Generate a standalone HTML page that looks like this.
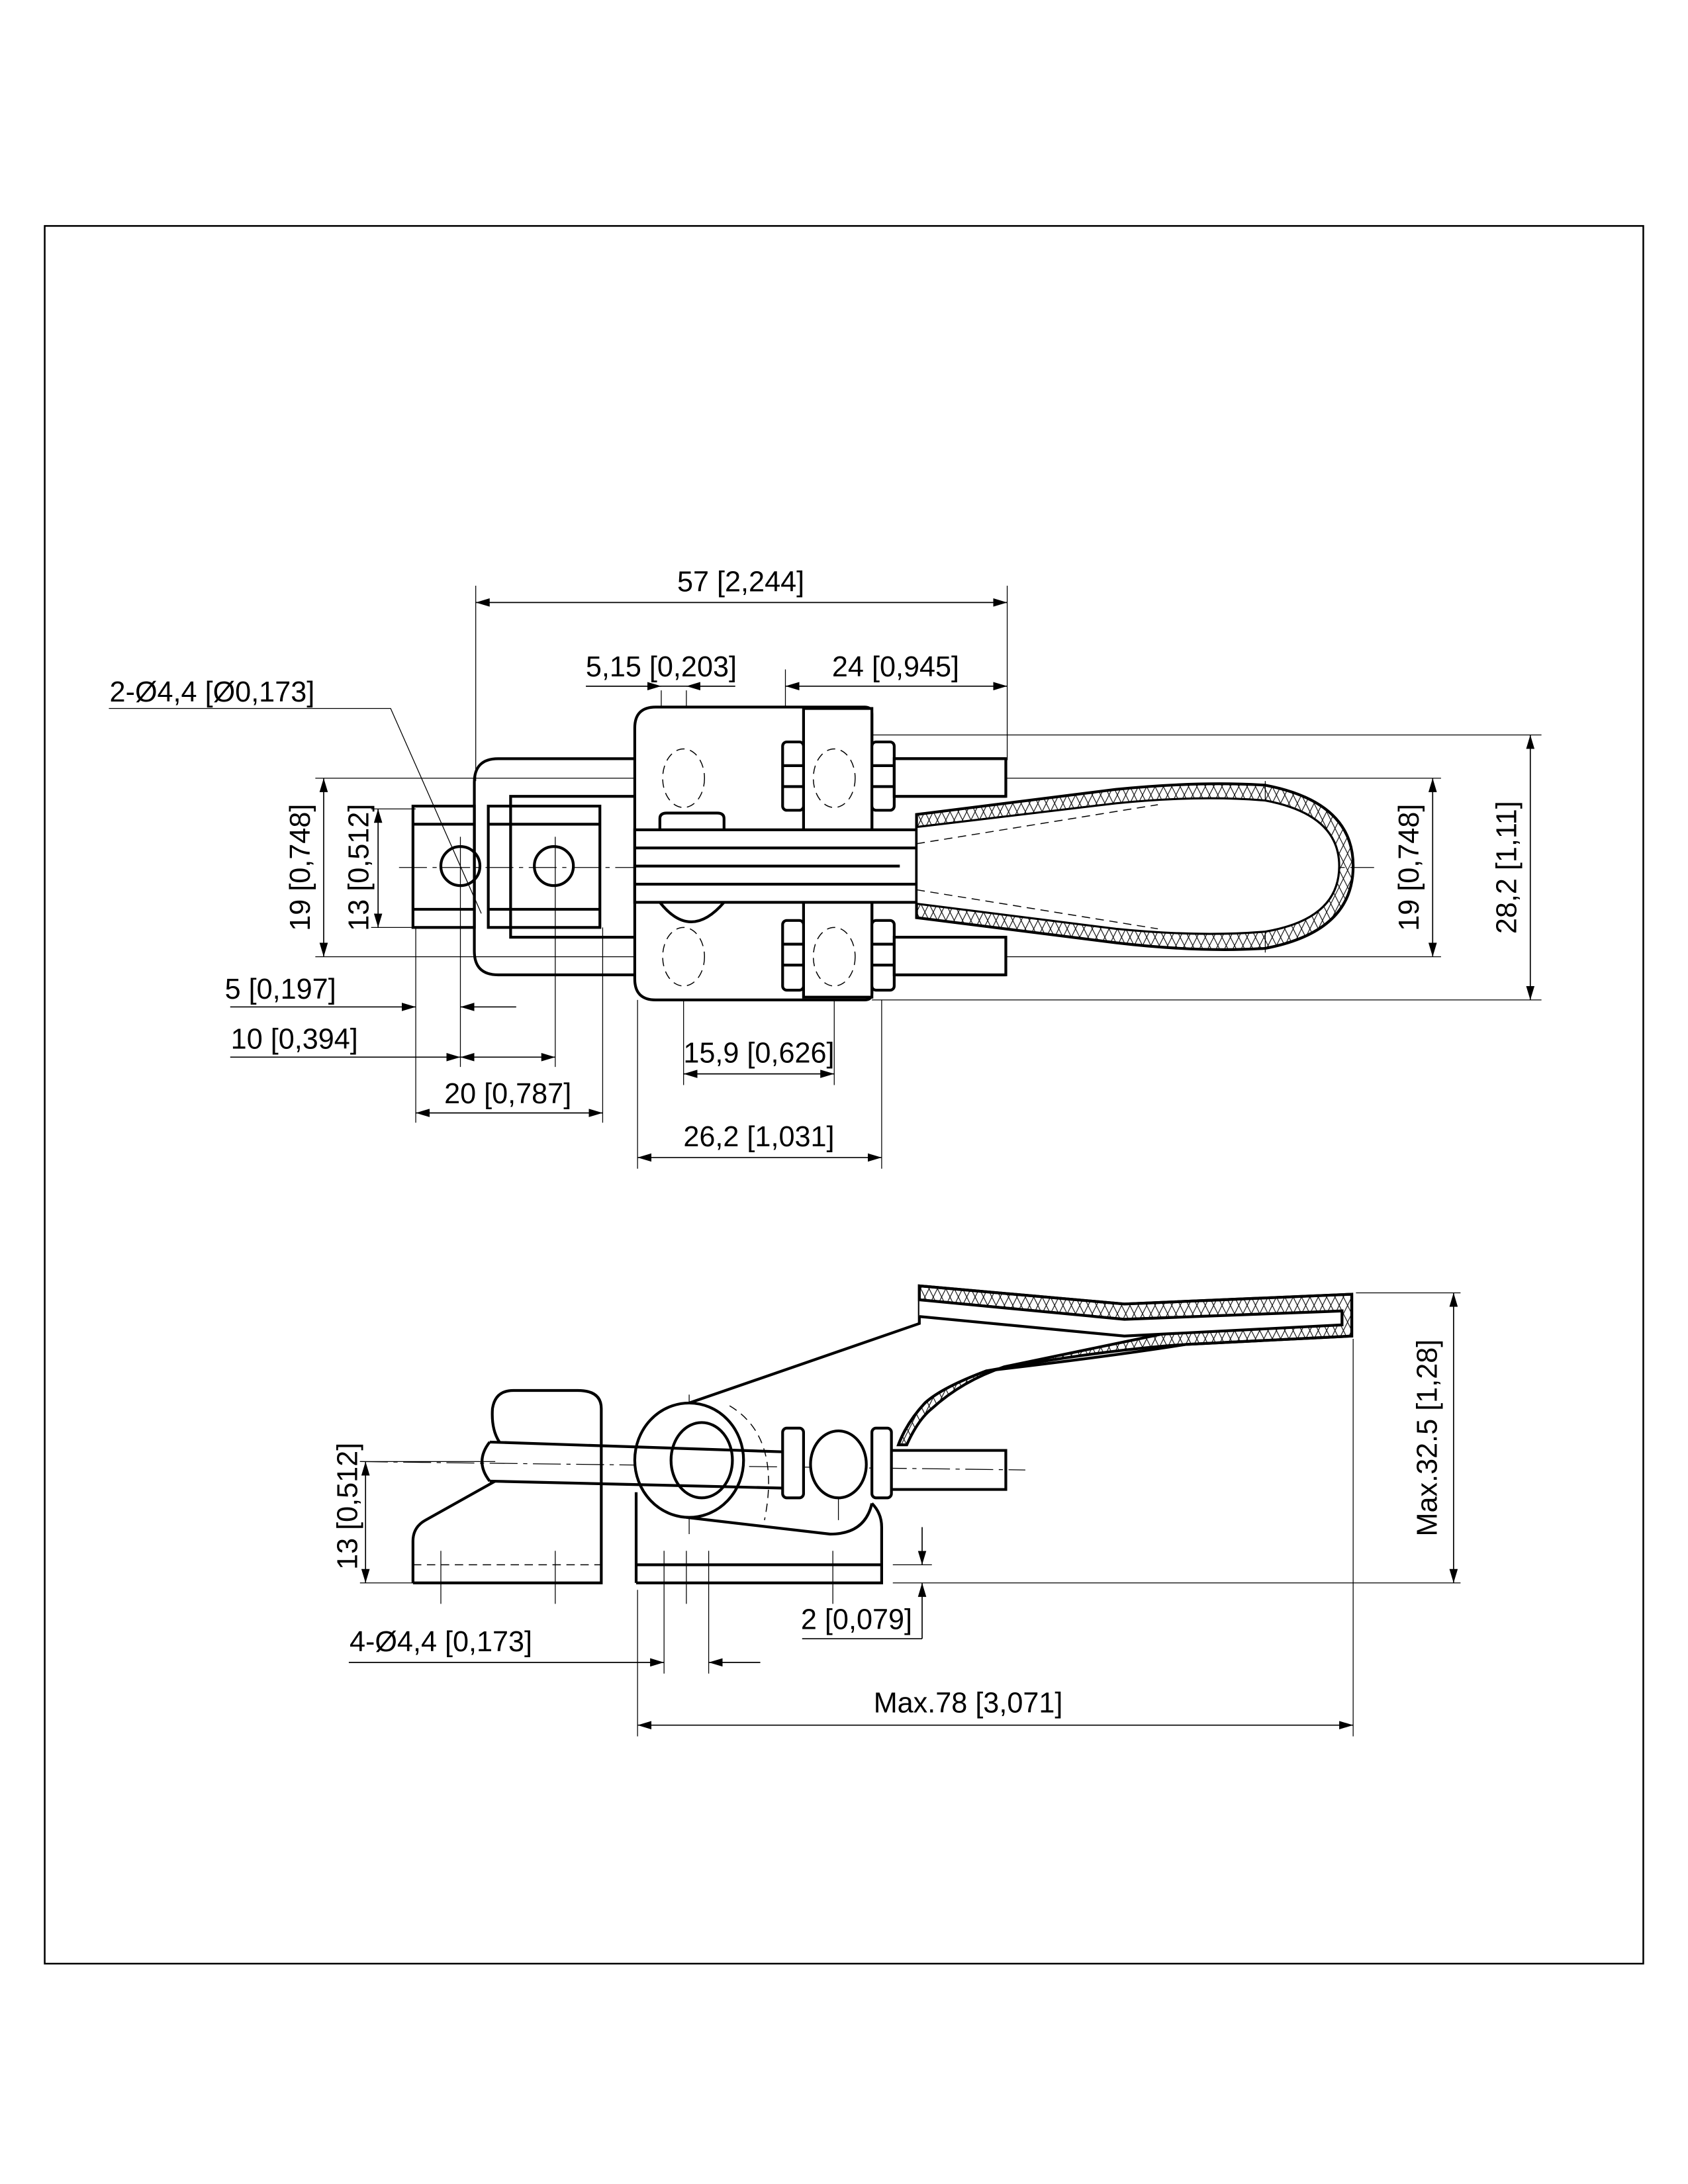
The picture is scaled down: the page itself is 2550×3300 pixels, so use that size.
<!DOCTYPE html>
<html><head><meta charset="utf-8"><style>html,body{margin:0;padding:0;background:#fff}svg{display:block}</style></head>
<body>
<svg width="2550" height="3300" viewBox="0 0 1210 1566" xmlns="http://www.w3.org/2000/svg" font-family="Liberation Sans, sans-serif" font-size="20.5">
<defs>
<pattern id="h" width="6" height="12" patternUnits="userSpaceOnUse"><path d="M0 0L6 12M6 0L0 12" stroke="#000" stroke-width="0.5"/></pattern>
<marker id="a" viewBox="0 0 10 6" refX="10" refY="3" markerWidth="10" markerHeight="6" orient="auto-start-reverse" markerUnits="userSpaceOnUse"><path d="M0 0L10 3L0 6z"/></marker>
</defs>
<rect x="32" y="162" width="1146" height="1246" fill="none" stroke="#000" stroke-width="1.2"/>
<g fill="none" stroke="#000">
<g stroke-width="0.6">
<line x1="286" y1="622" x2="985" y2="622" stroke-dasharray="20 4 3 4"/>
<line x1="341" y1="420" x2="341" y2="560"/><line x1="722" y1="420" x2="722" y2="545"/>
<line x1="563" y1="480" x2="563" y2="530"/>
<line x1="226" y1="558" x2="1033" y2="558"/><line x1="226" y1="686" x2="1033" y2="686"/>
<line x1="266" y1="580" x2="298" y2="580"/><line x1="266" y1="665" x2="298" y2="665"/>
<line x1="625" y1="527" x2="1105" y2="527"/><line x1="625" y1="717" x2="1105" y2="717"/>
<line x1="298" y1="665" x2="298" y2="805"/><line x1="330" y1="600" x2="330" y2="765"/>
<line x1="398" y1="600" x2="398" y2="765"/><line x1="432" y1="665" x2="432" y2="805"/>
<line x1="457" y1="717" x2="457" y2="838"/><line x1="632" y1="717" x2="632" y2="838"/>
<line x1="490" y1="560" x2="490" y2="778"/><line x1="598" y1="517" x2="598" y2="778"/>
<line x1="474" y1="495" x2="474" y2="640"/><line x1="492" y1="495" x2="492" y2="640"/>
<line x1="907" y1="560" x2="907" y2="683"/>
<path d="M78 508H280L345 655"/>
</g>
<g stroke-width="0.8">
<line x1="341" y1="432" x2="722" y2="432" marker-start="url(#a)" marker-end="url(#a)"/>
<line x1="420" y1="492" x2="474" y2="492" marker-end="url(#a)"/><line x1="527" y1="492" x2="492" y2="492" marker-end="url(#a)"/><line x1="420" y1="492" x2="527" y2="492"/>
<line x1="563" y1="492" x2="722" y2="492" marker-start="url(#a)" marker-end="url(#a)"/>
<line x1="232" y1="558" x2="232" y2="686" marker-start="url(#a)" marker-end="url(#a)"/>
<line x1="271" y1="580" x2="271" y2="665" marker-start="url(#a)" marker-end="url(#a)"/>
<line x1="1027" y1="558" x2="1027" y2="686" marker-start="url(#a)" marker-end="url(#a)"/>
<line x1="1097" y1="527" x2="1097" y2="717" marker-start="url(#a)" marker-end="url(#a)"/>
<line x1="165" y1="722" x2="298" y2="722" marker-end="url(#a)"/><line x1="370" y1="722" x2="330" y2="722" marker-end="url(#a)"/>
<line x1="165" y1="758" x2="330" y2="758" marker-end="url(#a)"/><line x1="398" y1="758" x2="330" y2="758" marker-start="url(#a)" marker-end="url(#a)"/>
<line x1="298" y1="798" x2="432" y2="798" marker-start="url(#a)" marker-end="url(#a)"/>
<line x1="490" y1="770" x2="598" y2="770" marker-start="url(#a)" marker-end="url(#a)"/>
<line x1="457" y1="830" x2="632" y2="830" marker-start="url(#a)" marker-end="url(#a)"/>
</g>
<g stroke-width="2">
<rect x="296" y="578" width="44" height="87"/>
<line x1="296" y1="591" x2="340" y2="591"/><line x1="296" y1="652" x2="340" y2="652"/>
<circle cx="330" cy="621" r="14"/>
<rect x="350" y="578" width="80" height="87"/>
<line x1="350" y1="591" x2="430" y2="591"/><line x1="350" y1="652" x2="430" y2="652"/>
<circle cx="397" cy="621" r="14"/>
<path d="M721 544H357Q340 544 340 561V682Q340 699 357 699H721"/>
<path d="M721 571H366V672H721"/>
<path d="M721 544V571M721 672V699"/>
<path d="M470 507H620Q625 507 625 512V712Q625 717 620 717H470Q455 717 455 702V522Q455 507 470 507Z" fill="#fff"/>
<rect x="576" y="508" width="49" height="207" fill="#fff"/>
<path d="M473 595V587Q473 583 478 583H514Q519 583 519 587V595"/>
<path d="M473 647Q495 675 519 647"/>
<rect x="455" y="595" width="202" height="52" fill="#fff"/>
<line x1="455" y1="608" x2="657" y2="608"/><line x1="455" y1="621" x2="645" y2="621"/><line x1="455" y1="634" x2="657" y2="634"/>
<rect x="561" y="532" width="15" height="49" rx="3" fill="#fff"/><rect x="625" y="532" width="16" height="49" rx="3" fill="#fff"/>
<rect x="561" y="660" width="15" height="50" rx="3" fill="#fff"/><rect x="625" y="660" width="16" height="50" rx="3" fill="#fff"/>
<line x1="561" y1="549" x2="576" y2="549"/><line x1="561" y1="564" x2="576" y2="564"/><line x1="625" y1="549" x2="641" y2="549"/><line x1="625" y1="564" x2="641" y2="564"/>
<line x1="561" y1="677" x2="576" y2="677"/><line x1="561" y1="692" x2="576" y2="692"/><line x1="625" y1="677" x2="641" y2="677"/><line x1="625" y1="692" x2="641" y2="692"/>
<rect x="641" y="544" width="80" height="27" fill="#fff"/><rect x="641" y="672" width="80" height="27" fill="#fff"/>
<path d="M657 584L800 566Q860 560 907 563Q970 575 970 621Q970 668 907 680Q860 683 800 676L657 658Z" fill="url(#h)"/>
<path d="M657 593L800 576Q860 570 907 574Q960 584 960 621Q960 659 907 668Q860 672 800 666L657 648Z" fill="#fff" stroke-width="1.5"/>
</g>
<g stroke-width="0.7" stroke-dasharray="6 4">
<ellipse cx="490" cy="558" rx="15" ry="21"/><ellipse cx="490" cy="686" rx="15" ry="21"/>
<ellipse cx="598" cy="558" rx="15" ry="21"/><ellipse cx="598" cy="686" rx="15" ry="21"/>
<path d="M657 605L830 577M657 638L830 666"/>
</g>
<g stroke-width="0.6">
<line x1="258" y1="1048" x2="735" y2="1054" stroke-dasharray="20 4 3 4"/>
<line x1="258" y1="1048" x2="355" y2="1048"/><line x1="258" y1="1135" x2="296" y2="1135"/>
<line x1="640" y1="1135" x2="1047" y2="1135"/><line x1="640" y1="1122" x2="668" y2="1122"/>
<line x1="972" y1="927" x2="1047" y2="927"/>
<line x1="457" y1="1140" x2="457" y2="1245"/><line x1="970" y1="960" x2="970" y2="1245"/>
<line x1="476" y1="1112" x2="476" y2="1200"/><line x1="508" y1="1112" x2="508" y2="1200"/><line x1="492" y1="1112" x2="492" y2="1150"/>
<line x1="316" y1="1112" x2="316" y2="1150"/><line x1="398" y1="1112" x2="398" y2="1150"/><line x1="597" y1="1112" x2="597" y2="1150"/>
<line x1="494" y1="1000" x2="494" y2="1100"/><line x1="601" y1="1020" x2="601" y2="1090"/>
</g>
<g stroke-width="0.8">
<line x1="262" y1="1048" x2="262" y2="1135" marker-start="url(#a)" marker-end="url(#a)"/>
<line x1="250" y1="1192" x2="476" y2="1192" marker-end="url(#a)"/><line x1="545" y1="1192" x2="508" y2="1192" marker-end="url(#a)"/>
<line x1="661" y1="1095" x2="661" y2="1122" marker-end="url(#a)"/><line x1="661" y1="1175" x2="661" y2="1135" marker-end="url(#a)"/>
<line x1="575" y1="1175" x2="661" y2="1175"/>
<line x1="1042" y1="927" x2="1042" y2="1135" marker-start="url(#a)" marker-end="url(#a)"/>
<line x1="457" y1="1237" x2="970" y2="1237" marker-start="url(#a)" marker-end="url(#a)"/>
</g>
<g stroke-width="2">
<path d="M296 1135H431V1010Q431 997 414 997H368Q355 997 353 1010Q352 1025 358 1034"/>
<path d="M296 1135V1105Q296 1095 305 1090L355 1062"/>
<path d="M456 1135H632V1095Q632 1085 625 1078"/>
<line x1="456" y1="1122" x2="632" y2="1122"/>
<path d="M456 1135V1070"/>
<path d="M494 1006L659 949V922L806 935L969 928V958L850 964Q800 972 707 983Q675 995 663 1006Q650 1020 644 1036" fill="#fff"/>
<path d="M659 922L806 935L969 928V958L850 964Q790 968 707 983Q675 995 663 1006Q650 1020 644 1036L650 1036Q658 1018 668 1010Q690 990 720 980L850 953L962 950V940L806 946L659 932Z" fill="url(#h)"/>
<path d="M659 944L806 958L962 950V940L806 946L659 932" fill="#fff"/>
<ellipse cx="494" cy="1047" rx="39" ry="41" fill="#fff"/>
<ellipse cx="503" cy="1047" rx="22" ry="27"/>
<path d="M492 1088L595 1100Q620 1100 625 1078"/>
<path d="M351 1034L561 1041M351 1062L561 1067"/>
<path d="M351 1034Q340 1048 351 1062"/>
<rect x="561" y="1024" width="15" height="50" rx="3" fill="#fff"/>
<rect x="625" y="1024" width="14" height="50" rx="3" fill="#fff"/>
<ellipse cx="601" cy="1050" rx="20" ry="24" fill="#fff"/>
<path d="M639 1040H721V1068H639"/>
</g>
<g stroke-width="0.7" stroke-dasharray="6 4">
<line x1="296" y1="1122" x2="431" y2="1122"/>
<path d="M523 1008Q560 1030 548 1090"/>
</g>
</g>
<g fill="#000" text-anchor="middle">
<text x="531" y="424">57 [2,244]</text>
<text x="474" y="485">5,15 [0,203]</text>
<text x="642" y="485">24 [0,945]</text>
<text x="152" y="503">2-Ø4,4 [Ø0,173]</text>
<text x="201" y="716">5 [0,197]</text>
<text x="211" y="752">10 [0,394]</text>
<text x="364" y="791">20 [0,787]</text>
<text x="544" y="762">15,9 [0,626]</text>
<text x="544" y="822">26,2 [1,031]</text>
<text transform="translate(222,622) rotate(-90)">19 [0,748]</text>
<text transform="translate(264,622) rotate(-90)">13 [0,512]</text>
<text transform="translate(1017,622) rotate(-90)">19 [0,748]</text>
<text transform="translate(1087,622) rotate(-90)">28,2 [1,11]</text>
<text transform="translate(256,1080) rotate(-90)">13 [0,512]</text>
<text transform="translate(1030,1031) rotate(-90)">Max.32.5 [1,28]</text>
<text x="316" y="1184">4-Ø4,4 [0,173]</text>
<text x="614" y="1168">2 [0,079]</text>
<text x="694" y="1228">Max.78 [3,071]</text>
</g>
</svg>
</body></html>
